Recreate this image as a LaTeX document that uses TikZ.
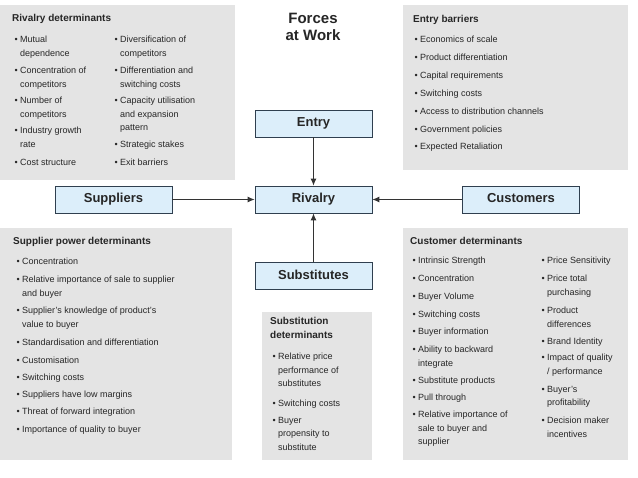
\documentclass[tikz,border=0pt]{standalone}
\usepackage{fontspec}
\setmainfont{Liberation Sans}
\usetikzlibrary{arrows.meta}
\definecolor{panel}{HTML}{E4E4E4}
\definecolor{boxfill}{HTML}{DCEEFA}
\definecolor{boxline}{HTML}{2F3F4F}
\newcommand\itm[3]{\node[itm] at (#1pt,-#2pt) {\llap{\textbullet\ }#3};}
\newcommand\ttl[3]{\node[ttlsty] at (#1pt,-#2pt) {#3};}
\begin{document}
\begin{tikzpicture}[x=1pt,y=1pt,
  pnl/.style={fill=panel,draw=none},
  force/.style={draw=boxline,fill=boxfill,line width=0.8pt,minimum width=117pt,minimum height=27pt,text height=9.5pt,text depth=2.5pt,font=\fontsize{13}{15}\selectfont\bfseries,text=black!85},
  itm/.style={anchor=north west,inner sep=0pt,align=left,font=\fontsize{9}{13.5}\selectfont,text=black!85},
  ttlsty/.style={anchor=north west,inner sep=0pt,align=left,font=\fontsize{10}{14.5}\selectfont\bfseries,text=black!85},
  arr/.style={-{Latex[length=7pt,width=6pt]},line width=0.9pt,black!80}]
\useasboundingbox (0,0) rectangle (638,-478);
\fill[white] (0,0) rectangle (638,-478);
% panels
\fill[pnl] (0,-5) rectangle (235,-180);
\fill[pnl] (403,-5) rectangle (628,-170);
\fill[pnl] (0,-228) rectangle (232,-460);
\fill[pnl] (262,-312) rectangle (372,-460);
\fill[pnl] (403,-228) rectangle (628,-460);
% title
\node[font=\fontsize{15}{17}\selectfont\bfseries,align=center,text=black!85] (title) at (313,-27) {Forces\\at Work};
% force boxes
\node[force] (entry) at (313.5,-123.5) {Entry};
\node[force] (rivalry) at (313.5,-199.5) {Rivalry};
\node[force] (suppliers) at (113.5,-199.5) {Suppliers};
\node[force] (customers) at (521,-199.5) {Customers};
\node[force] (subst) at (313.5,-276) {Substitutes};
\draw[arr] (entry) -- (rivalry);
\draw[arr] (suppliers) -- (rivalry);
\draw[arr] (customers) -- (rivalry);
\draw[arr] (subst) -- (rivalry);
% rivalry determinants
\ttl{12}{14}{Rivalry determinants}
\itm{20}{36}{Mutual\\dependence}
\itm{20}{67}{Concentration of\\competitors}
\itm{20}{97}{Number of\\competitors}
\itm{20}{127}{Industry growth\\rate}
\itm{20}{159}{Cost structure}
\itm{120}{36}{Diversification of\\competitors}
\itm{120}{67}{Differentiation and\\switching costs}
\itm{120}{97}{Capacity utilisation\\and expansion\\pattern}
\itm{120}{141}{Strategic stakes}
\itm{120}{159}{Exit barriers}
% entry barriers
\ttl{413}{15}{Entry barriers}
\itm{420}{36}{Economics of scale}
\itm{420}{54}{Product differentiation}
\itm{420}{72}{Capital requirements}
\itm{420}{90}{Switching costs}
\itm{420}{108}{Access to distribution channels}
\itm{420}{126}{Government policies}
\itm{420}{143}{Expected Retaliation}
% supplier power
\ttl{13}{237}{Supplier power determinants}
\itm{22}{258}{Concentration}
\itm{22}{276}{Relative importance of sale to supplier\\and buyer}
\itm{22}{307}{Supplier's knowledge of product's\\value to buyer}
\itm{22}{339}{Standardisation and differentiation}
\itm{22}{357}{Customisation}
\itm{22}{374}{Switching costs}
\itm{22}{391}{Suppliers have low margins}
\itm{22}{408}{Threat of forward integration}
\itm{22}{426}{Importance of quality to buyer}
% substitution
\ttl{270}{317}{Substitution\\determinants}
\itm{278}{353}{Relative price\\performance of\\substitutes}
\itm{278}{400}{Switching costs}
\itm{278}{417}{Buyer\\propensity to\\substitute}
% customer determinants
\ttl{410}{237}{Customer determinants}
\itm{418}{257}{Intrinsic Strength}
\itm{418}{275}{Concentration}
\itm{418}{293}{Buyer Volume}
\itm{418}{311}{Switching costs}
\itm{418}{328}{Buyer information}
\itm{418}{346}{Ability to backward\\integrate}
\itm{418}{377}{Substitute products}
\itm{418}{394}{Pull through}
\itm{418}{411}{Relative importance of\\sale to buyer and\\supplier}
\itm{547}{257}{Price Sensitivity}
\itm{547}{275}{Price total\\purchasing}
\itm{547}{307}{Product\\differences}
\itm{547}{338}{Brand Identity}
\itm{547}{354}{Impact of quality\\/ performance}
\itm{547}{386}{Buyer's\\profitability}
\itm{547}{417}{Decision maker\\incentives}
\end{tikzpicture}
\end{document}
